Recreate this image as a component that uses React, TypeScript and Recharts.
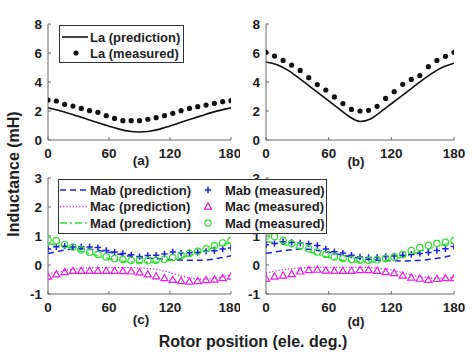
import React from 'react';
import { ComposedChart, XAxis, YAxis, Line, Scatter } from 'recharts';

// ---------- data ----------
const measuredPos = [0, 8.18, 16.36, 24.55, 32.73, 40.91, 49.09, 57.27, 65.45, 73.64, 81.82, 90, 98.18, 106.36, 114.55, 122.73, 130.91, 139.09, 147.27, 155.45, 163.64, 171.82, 180];
const predPos = [0, 10, 20, 30, 40, 50, 60, 70, 80, 90, 100, 110, 120, 130, 140, 150, 160, 170, 180];

const xTicks = [0, 60, 120, 180];
const yTicksTop = [0, 2, 4, 6, 8];
const yTicksBottom = [-1, 0, 1, 2, 3];

// (a)
const laPredA = [2.22, 2.05, 1.85, 1.63, 1.4, 1.17, 0.95, 0.75, 0.6, 0.55, 0.6, 0.75, 0.97, 1.2, 1.43, 1.65, 1.87, 2.06, 2.22];
const laMeasA = [2.76, 2.69, 2.46, 2.34, 2.18, 2.02, 1.91, 1.68, 1.49, 1.33, 1.33, 1.33, 1.43, 1.54, 1.68, 1.84, 2.02, 2.18, 2.3, 2.41, 2.53, 2.64, 2.71];
// (b)
const laPredB = [5.38, 5.2, 4.85, 4.35, 3.8, 3.25, 2.7, 2.15, 1.6, 1.28, 1.45, 1.95, 2.5, 3.05, 3.6, 4.15, 4.65, 5.05, 5.3];
const laMeasB = [6.05, 5.79, 5.49, 5.17, 4.8, 4.3, 3.82, 3.45, 2.97, 2.51, 2.11, 2.0, 2.05, 2.32, 2.87, 3.33, 3.84, 4.18, 4.44, 5.06, 5.49, 5.77, 6.05];
// (c)
const mabPredC = [0.4, 0.47, 0.53, 0.56, 0.55, 0.5, 0.44, 0.37, 0.31, 0.26, 0.23, 0.21, 0.19, 0.17, 0.16, 0.16, 0.19, 0.25, 0.32];
const macPredC = [-0.31, -0.24, -0.17, -0.12, -0.1, -0.09, -0.09, -0.09, -0.09, -0.1, -0.12, -0.17, -0.26, -0.37, -0.45, -0.49, -0.48, -0.42, -0.33];
const madPredC = [0.72, 0.68, 0.6, 0.5, 0.4, 0.3, 0.22, 0.15, 0.11, 0.09, 0.09, 0.11, 0.16, 0.24, 0.34, 0.45, 0.57, 0.68, 0.76];
const mabMeasC = [0.55, 0.63, 0.65, 0.62, 0.63, 0.62, 0.6, 0.5, 0.45, 0.4, 0.35, 0.29, 0.33, 0.34, 0.38, 0.45, 0.41, 0.42, 0.43, 0.47, 0.49, 0.55, 0.59];
const macMeasC = [-0.4, -0.32, -0.24, -0.2, -0.2, -0.2, -0.2, -0.2, -0.2, -0.21, -0.22, -0.25, -0.32, -0.39, -0.45, -0.51, -0.55, -0.57, -0.55, -0.52, -0.5, -0.45, -0.4];
const madMeasC = [0.86, 0.84, 0.7, 0.62, 0.52, 0.44, 0.36, 0.28, 0.22, 0.19, 0.16, 0.15, 0.15, 0.16, 0.2, 0.26, 0.33, 0.4, 0.47, 0.56, 0.66, 0.76, 0.84];
// (d)
const mabPredD = [0.4, 0.46, 0.51, 0.54, 0.54, 0.5, 0.44, 0.36, 0.29, 0.23, 0.19, 0.16, 0.15, 0.14, 0.15, 0.17, 0.21, 0.27, 0.34];
const macPredD = [-0.28, -0.2, -0.14, -0.11, -0.09, -0.08, -0.08, -0.08, -0.08, -0.08, -0.09, -0.12, -0.17, -0.26, -0.35, -0.42, -0.45, -0.45, -0.43];
const madPredD = [0.8, 0.76, 0.68, 0.58, 0.47, 0.36, 0.26, 0.18, 0.13, 0.1, 0.1, 0.12, 0.18, 0.27, 0.38, 0.49, 0.6, 0.7, 0.78];
const mabMeasD = [0.7, 0.74, 0.8, 0.78, 0.76, 0.73, 0.67, 0.55, 0.46, 0.41, 0.34, 0.28, 0.26, 0.26, 0.29, 0.31, 0.34, 0.36, 0.4, 0.43, 0.5, 0.56, 0.64];
const macMeasD = [-0.47, -0.4, -0.36, -0.31, -0.22, -0.17, -0.16, -0.19, -0.2, -0.2, -0.2, -0.17, -0.17, -0.2, -0.24, -0.28, -0.36, -0.43, -0.47, -0.51, -0.48, -0.45, -0.45];
const madMeasD = [1.0, 0.98, 0.84, 0.74, 0.66, 0.56, 0.45, 0.36, 0.28, 0.22, 0.19, 0.16, 0.16, 0.18, 0.22, 0.27, 0.36, 0.5, 0.6, 0.68, 0.74, 0.78, 0.84];

const legendTop = ['La (prediction)', 'La (measured)'];
const legendBottomPred = ['Mab (prediction)', 'Mac (prediction)', 'Mad (prediction)'];
const legendBottomMeas = ['Mab (measured)', 'Mac (measured)', 'Mad (measured)'];
const panelLabels = ['(a)', '(b)', '(c)', '(d)'];
const xTitle = 'Rotor position (ele. deg.)';
const yTitle = 'Inductance (mH)';

// ---------- styles ----------
const FONT = '"Liberation Sans", Arial, sans-serif';
const TXT = '#1e1e1e';
const BOX = '#6a6a6a';
const BLUE = '#1f1fe6';
const MAGENTA = '#e61ee6';
const GREEN = '#2ee02e';
const BLACK = '#111';

const toRows = (xs: number[], ys: number[]) => ys.map((y, i) => ({ x: xs[i], y }));

const tickStyle = { fontFamily: FONT, fontWeight: 700, fontSize: 13.5, fill: TXT };

const DotShape = (p: any) => <circle cx={p.cx} cy={p.cy} r={2.6} fill={BLACK} />;
const PlusShape = (p: any) => (
  <path d={`M${p.cx - 3.2},${p.cy}h6.4M${p.cx},${p.cy - 3.2}v6.4`} stroke={BLUE} strokeWidth={1.5} fill="none" />
);
const TriShape = (p: any) => (
  <path d={`M${p.cx},${p.cy - 3.6}L${p.cx + 3.6},${p.cy + 2.6}L${p.cx - 3.6},${p.cy + 2.6}Z`} fill="none" stroke={MAGENTA} strokeWidth={1.2} />
);
const RingShape = (p: any) => <circle cx={p.cx} cy={p.cy} r={3.2} fill="none" stroke={GREEN} strokeWidth={1.2} />;

type Series = { kind: 'line' | 'scatter'; data: { x: number; y: number }[]; color: string; dash?: string; width?: number; shape?: any; name: string };

function Panel(props: { left: number; top: number; width: number; height: number; margin: any; yWidth: number; xHeight: number; domain: number[]; ticks: number[]; series: Series[] }) {
  const { left, top, width, height, margin, yWidth, xHeight, domain, ticks, series } = props;
  return (
    <div style={{ position: 'absolute', left, top, width, height }}>
      <ComposedChart width={width} height={height} margin={margin}>
        <XAxis xAxisId="b" type="number" dataKey="x" domain={[0, 180]} ticks={xTicks} orientation="bottom" height={xHeight}
          tick={tickStyle} tickSize={-3} tickMargin={11} stroke={BOX} tickLine={{ stroke: BOX }} axisLine={{ stroke: BOX }} allowDataOverflow />
        <XAxis xAxisId="t" type="number" dataKey="x" domain={[0, 180]} ticks={xTicks} orientation="top" height={0}
          tick={false} tickSize={-3} stroke={BOX} tickLine={{ stroke: BOX }} axisLine={{ stroke: BOX }} allowDataOverflow />
        <YAxis yAxisId="l" type="number" dataKey="y" domain={domain} ticks={ticks} orientation="left" width={yWidth}
          tick={tickStyle} tickSize={-3} tickMargin={9} stroke={BOX} tickLine={{ stroke: BOX }} axisLine={{ stroke: BOX }} allowDataOverflow />
        <YAxis yAxisId="r" type="number" dataKey="y" domain={domain} ticks={ticks} orientation="right" width={0}
          tick={false} tickSize={-3} stroke={BOX} tickLine={{ stroke: BOX }} axisLine={{ stroke: BOX }} allowDataOverflow />
        {series.filter(s => s.kind === 'line').map(s => (
          <Line key={s.name} xAxisId="b" yAxisId="l" data={s.data} dataKey="y" type="monotone" stroke={s.color}
            strokeWidth={s.width ?? 1.5} strokeDasharray={s.dash} dot={false} activeDot={false} isAnimationActive={false} />
        ))}
        {series.filter(s => s.kind === 'scatter').map(s => (
          <Scatter key={s.name} xAxisId="b" yAxisId="l" data={s.data} dataKey="y" shape={s.shape} isAnimationActive={false} />
        ))}
      </ComposedChart>
    </div>
  );
}

const DASH = '6 4';
const DOTS = '1.2 2';
const DASHDOT = '7 3 2 3';

export default function App() {
  const topMargin = { top: 24, right: 9, bottom: 0, left: 0 };
  const seriesA: Series[] = [
    { kind: 'line', data: toRows(predPos, laPredA), color: BLACK, name: 'pa', width: 1.6 },
    { kind: 'scatter', data: toRows(measuredPos, laMeasA), color: BLACK, shape: DotShape, name: 'ma' },
  ];
  const seriesB: Series[] = [
    { kind: 'line', data: toRows(predPos, laPredB), color: BLACK, name: 'pb', width: 1.6 },
    { kind: 'scatter', data: toRows(measuredPos, laMeasB), color: BLACK, shape: DotShape, name: 'mb' },
  ];
  const mk = (mabP: number[], macP: number[], madP: number[], mabM: number[], macM: number[], madM: number[]): Series[] => [
    { kind: 'line', data: toRows(predPos, mabP), color: BLUE, dash: DASH, name: 'mabp' },
    { kind: 'line', data: toRows(predPos, macP), color: MAGENTA, dash: DOTS, width: 1.3, name: 'macp' },
    { kind: 'line', data: toRows(predPos, madP), color: GREEN, dash: DASHDOT, name: 'madp' },
    { kind: 'scatter', data: toRows(measuredPos, mabM), color: BLUE, shape: PlusShape, name: 'mabm' },
    { kind: 'scatter', data: toRows(measuredPos, macM), color: MAGENTA, shape: TriShape, name: 'macm' },
    { kind: 'scatter', data: toRows(measuredPos, madM), color: GREEN, shape: RingShape, name: 'madm' },
  ];
  const seriesC = mk(mabPredC, macPredC, madPredC, mabMeasC, macMeasC, madMeasC);
  const seriesD = mk(mabPredD, macPredD, madPredD, mabMeasD, macMeasD, madMeasD);

  const txt = { fontFamily: FONT, fontWeight: 700, fill: TXT } as const;
  const legRowsB = [190, 206.5, 223];
  const predStyles = [
    { color: BLUE, dash: DASH, w: 1.5 },
    { color: MAGENTA, dash: DOTS, w: 1.3 },
    { color: GREEN, dash: DASHDOT, w: 1.5 },
  ];
  const measShapes = [PlusShape, TriShape, RingShape];

  return (
    <div style={{ position: 'absolute', left: 0, top: 0, width: 474, height: 357, background: '#fff', overflow: 'hidden' }}>
      <Panel left={0} top={0} width={240} height={175} margin={topMargin} yWidth={48} xHeight={35} domain={[0, 8]} ticks={yTicksTop} series={seriesA} />
      <Panel left={234} top={0} width={240} height={175} margin={{ top: 24, right: 20, bottom: 0, left: 0 }} yWidth={32} xHeight={35} domain={[0, 8]} ticks={yTicksTop} series={seriesB} />
      <Panel left={0} top={160} width={240} height={175} margin={{ top: 18, right: 9, bottom: 0, left: 0 }} yWidth={48} xHeight={41} domain={[-1, 3]} ticks={yTicksBottom} series={seriesC} />
      <Panel left={234} top={160} width={240} height={175} margin={{ top: 18, right: 20, bottom: 0, left: 0 }} yWidth={32} xHeight={41} domain={[-1, 3]} ticks={yTicksBottom} series={seriesD} />
      <svg width={474} height={357} style={{ position: 'absolute', left: 0, top: 0, pointerEvents: 'none' }}>
        {/* legend (a) */}
        <rect x={59.5} y={25.5} width={124} height={37} fill="#fff" stroke="#333" strokeWidth={1} />
        <line x1={62} x2={88} y1={37} y2={37} stroke={BLACK} strokeWidth={1.6} />
        <text x={90} y={41.5} fontSize={13} {...txt}>{legendTop[0]}</text>
        <circle cx={76} cy={53} r={2.6} fill={BLACK} />
        <text x={90} y={57.5} fontSize={13} {...txt}>{legendTop[1]}</text>
        {/* legend (c)/(d) */}
        <rect x={58.5} y={179.5} width={268} height={54} fill="#fff" stroke="#333" strokeWidth={1} />
        {legRowsB.map((y, i) => (
          <g key={i}>
            <line x1={60} x2={88} y1={y} y2={y} stroke={predStyles[i].color} strokeWidth={predStyles[i].w} strokeDasharray={predStyles[i].dash} />
            <text x={90} y={y + 4.5} fontSize={13} {...txt}>{legendBottomPred[i]}</text>
            {React.createElement(measShapes[i], { cx: 208, cy: y })}
            <text x={225} y={y + 4.5} fontSize={13} {...txt}>{legendBottomMeas[i]}</text>
          </g>
        ))}
        {/* panel labels */}
        <text x={141} y={165} fontSize={13.5} textAnchor="middle" {...txt}>{panelLabels[0]}</text>
        <text x={356} y={166} fontSize={13.5} textAnchor="middle" {...txt}>{panelLabels[1]}</text>
        <text x={141} y={324} fontSize={13.5} textAnchor="middle" {...txt}>{panelLabels[2]}</text>
        <text x={356} y={326} fontSize={13.5} textAnchor="middle" {...txt}>{panelLabels[3]}</text>
        {/* axis titles */}
        <text x={253} y={347} fontSize={16} textAnchor="middle" {...txt}>{xTitle}</text>
        <text x={0} y={0} fontSize={16} textAnchor="middle" transform="translate(18.5,174) rotate(-90)" {...txt}>{yTitle}</text>
      </svg>
    </div>
  );
}
